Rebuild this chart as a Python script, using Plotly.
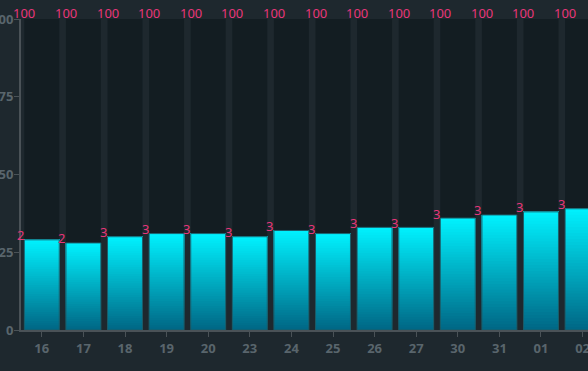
import plotly.graph_objects as go

categories = ["16", "17", "18", "19", "20", "23", "24", "25", "26", "27", "30", "31", "01", "02"]
values = [29, 28, 30, 31, 31, 30, 32, 31, 33, 33, 36, 37, 38, 39]
counts = [2, 2, 3, 3, 3, 3, 3, 3, 3, 3, 3, 3, 3, 3]
totals = [100] * len(categories)

PAPER = "#1e282e"
BACK = "#131d22"
PINK = "#e8367a"
TICK = "#59656c"
AXIS = "#4a5257"

top_rgb = (0, 242, 255)
bot_rgb = (0, 102, 132)
N = 40

fig = go.Figure()
fig.add_trace(go.Bar(x=categories, y=totals, marker=dict(color=BACK, line=dict(width=0)),
                     hoverinfo="skip", showlegend=False))

for k in range(N):
    t = (k + 0.5) / N
    c = tuple(round(bot_rgb[i] + (top_rgb[i] - bot_rgb[i]) * t) for i in range(3))
    fig.add_trace(go.Bar(
        x=categories,
        y=[v * (N - k) / N for v in values],
        base=[v * k / N for v in values],
        marker=dict(color="rgb(%d,%d,%d)" % c, line=dict(width=0)),
        hoverinfo="skip", showlegend=False))

fig.add_trace(go.Bar(x=categories, y=values,
                     marker=dict(color="rgba(0,0,0,0)", line=dict(color="#1b5c68", width=1)),
                     showlegend=False))

annotations = []
for i, t in enumerate(totals):
    annotations.append(dict(x=i, y=t, text=str(t), showarrow=False, xshift=-17.5,
                            yanchor="bottom", yshift=-5,
                            font=dict(family="Noto Sans", size=13, color=PINK)))
for i, (v, n) in enumerate(zip(values, counts)):
    annotations.append(dict(x=i, y=v, text=str(n), showarrow=False, xshift=-21.5,
                            yanchor="middle", yshift=4.5,
                            font=dict(family="Noto Sans", size=13, color=PINK)))

fig.update_layout(
    width=588, height=371,
    margin=dict(l=21, r=0, t=19, b=41),
    paper_bgcolor=PAPER, plot_bgcolor=PAPER,
    barmode="overlay", bargap=0.16,
    annotations=annotations,
    font=dict(family="Noto Sans"),
    xaxis=dict(type="category", range=[-0.5, 13.13], showline=True, linecolor=AXIS, linewidth=2,
               ticks="outside", ticklen=5, tickcolor=AXIS, showgrid=False, zeroline=False,
               automargin=False,
               tickfont=dict(family="Noto Sans", size=13, color=TICK, weight="bold")),
    yaxis=dict(range=[0, 100], tickvals=[0, 25, 50, 75, 100], showline=True, linecolor=AXIS,
               linewidth=2, ticks="outside", ticklen=5, tickcolor=AXIS, showgrid=False,
               zeroline=False, automargin=False, ticklabelstandoff=-2,
               tickfont=dict(family="Noto Sans", size=13, color=TICK, weight="bold")),
)

fig.write_html(
    "out.html",
    config={"displayModeBar": False},
    post_script="document.body.style.margin='0';document.body.style.background='%s';" % PAPER,
)
